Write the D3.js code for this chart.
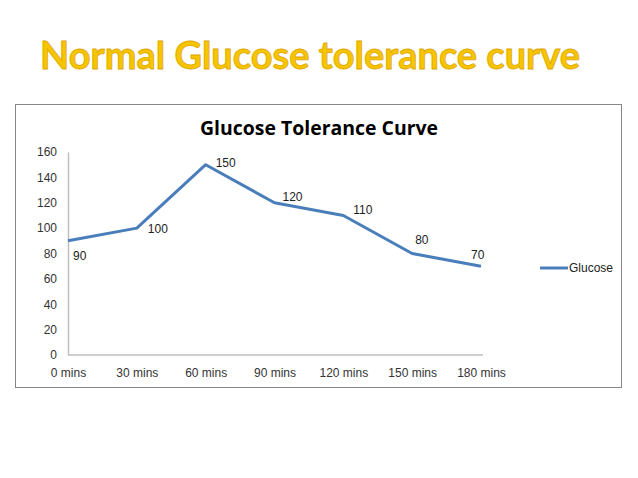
<!DOCTYPE html>
<html>
<head>
<meta charset="utf-8">
<script src="https://cdn.jsdelivr.net/npm/d3@7"></script>
<style>
  body { margin: 0; background: #fff; }
  svg { display: block; }
  text { font-family: "Liberation Sans", "DejaVu Sans", sans-serif; }
</style>
</head>
<body>
<div id="chart"></div>
<script>
'use strict';

var categories = ['0 mins', '30 mins', '60 mins', '90 mins', '120 mins', '150 mins', '180 mins'];
var glucose = [90, 100, 150, 120, 110, 80, 70];
var yTicks = [0, 20, 40, 60, 80, 100, 120, 140, 160];
var seriesName = 'Glucose';

// where each data label sits next to its point (Excel placed them by hand)
var labelOffset = [[5, 19], [11, 5], [10, 2], [8, -2], [10, -1], [3, -10], [-10, -7]];

var width = 638, height = 478;
var svg = d3.select('#chart').append('svg')
    .attr('width', width)
    .attr('height', height);

// slide heading
svg.append('text')
    .attr('x', 310)
    .attr('y', 69)
    .attr('text-anchor', 'middle')
    .attr('textLength', 540)
    .attr('lengthAdjust', 'spacingAndGlyphs')
    .style('font-family', 'Lato, "Open Sans", sans-serif')
    .style('font-weight', 'bold')
    .style('font-size', '38px')
    .style('fill', '#f7c500')
    .style('stroke', '#e0a600')
    .style('stroke-width', 0.8)
    .text('Normal Glucose tolerance curve');

// chart frame
svg.append('rect')
    .attr('x', 15.5)
    .attr('y', 104.5)
    .attr('width', 606)
    .attr('height', 283)
    .style('fill', '#fff')
    .style('stroke', '#868686')
    .style('stroke-width', 1);

svg.append('text')
    .attr('x', 319)
    .attr('y', 135)
    .attr('text-anchor', 'middle')
    .attr('textLength', 238)
    .attr('lengthAdjust', 'spacingAndGlyphs')
    .style('font-family', '"Open Sans", sans-serif')
    .style('font-weight', 'bold')
    .style('font-size', '19px')
    .style('fill', '#000')
    .text('Glucose Tolerance Curve');

var x = d3.scalePoint().domain(categories).range([68, 481]);
var y = d3.scaleLinear().domain([0, 160]).range([355, 152]);

var yAxis = d3.axisLeft(y).tickValues(yTicks).tickSize(0).tickPadding(11);
var gy = svg.append('g')
    .attr('transform', 'translate(68,0)')
    .call(yAxis);
gy.select('.domain').style('stroke', '#bfbfbf').style('stroke-width', 1.5);
gy.selectAll('text').style('font-size', '12px').style('fill', '#333');

var xAxis = d3.axisBottom(x).tickSize(0).tickPadding(13);
var gx = svg.append('g')
    .attr('transform', 'translate(0,355)')
    .call(xAxis);
gx.select('.domain').attr('d', 'M68,0H483').style('stroke', '#bfbfbf').style('stroke-width', 1.5);
gx.selectAll('text').style('font-size', '12px').style('fill', '#333');

var line = d3.line()
    .x(function (d, i) { return x(categories[i]); })
    .y(function (d) { return y(d); });

svg.append('path')
    .attr('d', line(glucose))
    .style('fill', 'none')
    .style('stroke', '#4a7ebb')
    .style('stroke-width', 3)
    .style('stroke-linejoin', 'round');

svg.append('g').selectAll('text')
    .data(glucose)
    .enter()
    .append('text')
    .attr('x', function (d, i) { return x(categories[i]) + labelOffset[i][0]; })
    .attr('y', function (d, i) { return y(d) + labelOffset[i][1]; })
    .style('font-size', '12px')
    .style('fill', '#222')
    .text(function (d) { return d; });

// legend
var legend = svg.append('g').attr('transform', 'translate(540,268)');
legend.append('line')
    .attr('x1', 0).attr('x2', 28)
    .style('stroke', '#4a7ebb')
    .style('stroke-width', 3);
legend.append('text')
    .attr('x', 29)
    .attr('y', 4)
    .style('font-size', '12px')
    .style('fill', '#222')
    .text(seriesName);
</script>
</body>
</html>
